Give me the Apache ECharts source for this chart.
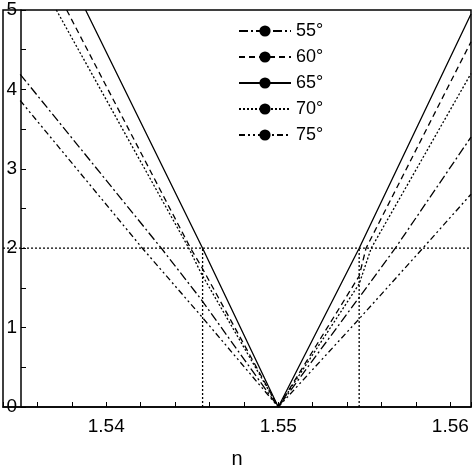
<!DOCTYPE html>
<html>
<head>
<meta charset="utf-8">
<script src="https://cdn.jsdelivr.net/npm/echarts@6/dist/echarts.min.js"></script>
<style>html,body{margin:0;background:#fff}#c{width:474px;height:474px}</style>
</head>
<body>
<div id="c"></div>
<script>
// angle series: [n, value]
var names = ['55°', '60°', '65°', '70°', '75°'];
var s55 = [[1.535, 4.19], [1.5432, 2], [1.5455, 1.36], [1.55, 0], [1.5547, 1.38], [1.5568, 2], [1.5612, 3.4]];
var s60 = [[1.5377, 5], [1.5449, 2], [1.5455, 1.78], [1.55, 0], [1.5547, 1.65], [1.5551, 2], [1.5612, 4.6]];
var s65 = [[1.5388, 5], [1.5456, 2], [1.55, 0], [1.5547, 2], [1.5612, 4.95]];
var s70 = [[1.5371, 5], [1.5448, 2], [1.5455, 1.69], [1.55, 0], [1.5547, 1.55], [1.5554, 2], [1.5612, 4.2]];
var s75 = [[1.535, 3.86], [1.5421, 2], [1.5455, 1.15], [1.55, 0], [1.5547, 1.11], [1.5584, 2], [1.5612, 2.68]];
var dashes = [[9, 3, 2, 3], [6, 4], 'solid', [2, 2], [6, 3, 2, 3, 2, 3]];
var refY = 2, refN1 = 1.5456, refN2 = 1.5547;

var chart = echarts.init(document.getElementById('c'));
var lines = [s55, s60, s65, s70, s75].map(function (d, i) {
  return {
    name: names[i], type: 'line', data: d, symbol: 'none', silent: true,
    lineStyle: { color: '#000', width: 1.3, type: dashes[i] }, itemStyle: { color: '#000' }
  };
});
var refStyle = { color: '#000', width: 1.3, type: [2, 2] };
lines.push(
  { type: 'line', data: [[1.534, refY], [1.5612, refY]], symbol: 'none', lineStyle: refStyle },
  { type: 'line', data: [[refN1, 0], [refN1, refY]], symbol: 'none', lineStyle: refStyle },
  { type: 'line', data: [[refN2, 0], [refN2, refY]], symbol: 'none', lineStyle: refStyle }
);

chart.setOption({
  animation: false,
  textStyle: { fontFamily: 'Liberation Sans, Arial, sans-serif' },
  grid: { left: -4, right: -4, top: 10, bottom: 62, show: true, borderColor: '#000', borderWidth: 1.5 },
  legend: {
    data: names, orient: 'vertical', left: 233, top: 17, itemWidth: 52, itemHeight: 14, itemGap: 8,
    textStyle: { fontSize: 18, color: '#000' }
  },
  xAxis: {
    type: 'value', min: 1.534, max: 1.5612, interval: 0.002, name: 'n',
    nameLocation: 'middle', nameGap: 42, nameTextStyle: { fontSize: 20, color: '#000' },
    axisLine: { lineStyle: { color: '#000', width: 1.5 } },
    axisTick: { inside: true, length: 5, lineStyle: { color: '#000' } },
    splitLine: { show: false },
    axisLabel: {
      fontSize: 19, color: '#000', margin: 10, showMinLabel: true, showMaxLabel: true,
      formatter: function (v) { return Math.round(v * 1000) % 10 === 0 ? v.toFixed(2) : ''; }
    }
  },
  yAxis: {
    type: 'value', min: 0, max: 5, interval: 0.5, offset: -18,
    axisLine: { show: true, lineStyle: { color: '#000', width: 1.5 } },
    axisTick: { inside: true, length: 5, lineStyle: { color: '#000' } },
    splitLine: { show: false },
    axisLabel: {
      fontSize: 19, color: '#000', margin: 4,
      formatter: function (v) { return v % 1 === 0 ? String(v) : ''; }
    }
  },
  series: lines
});
</script>
</body>
</html>
